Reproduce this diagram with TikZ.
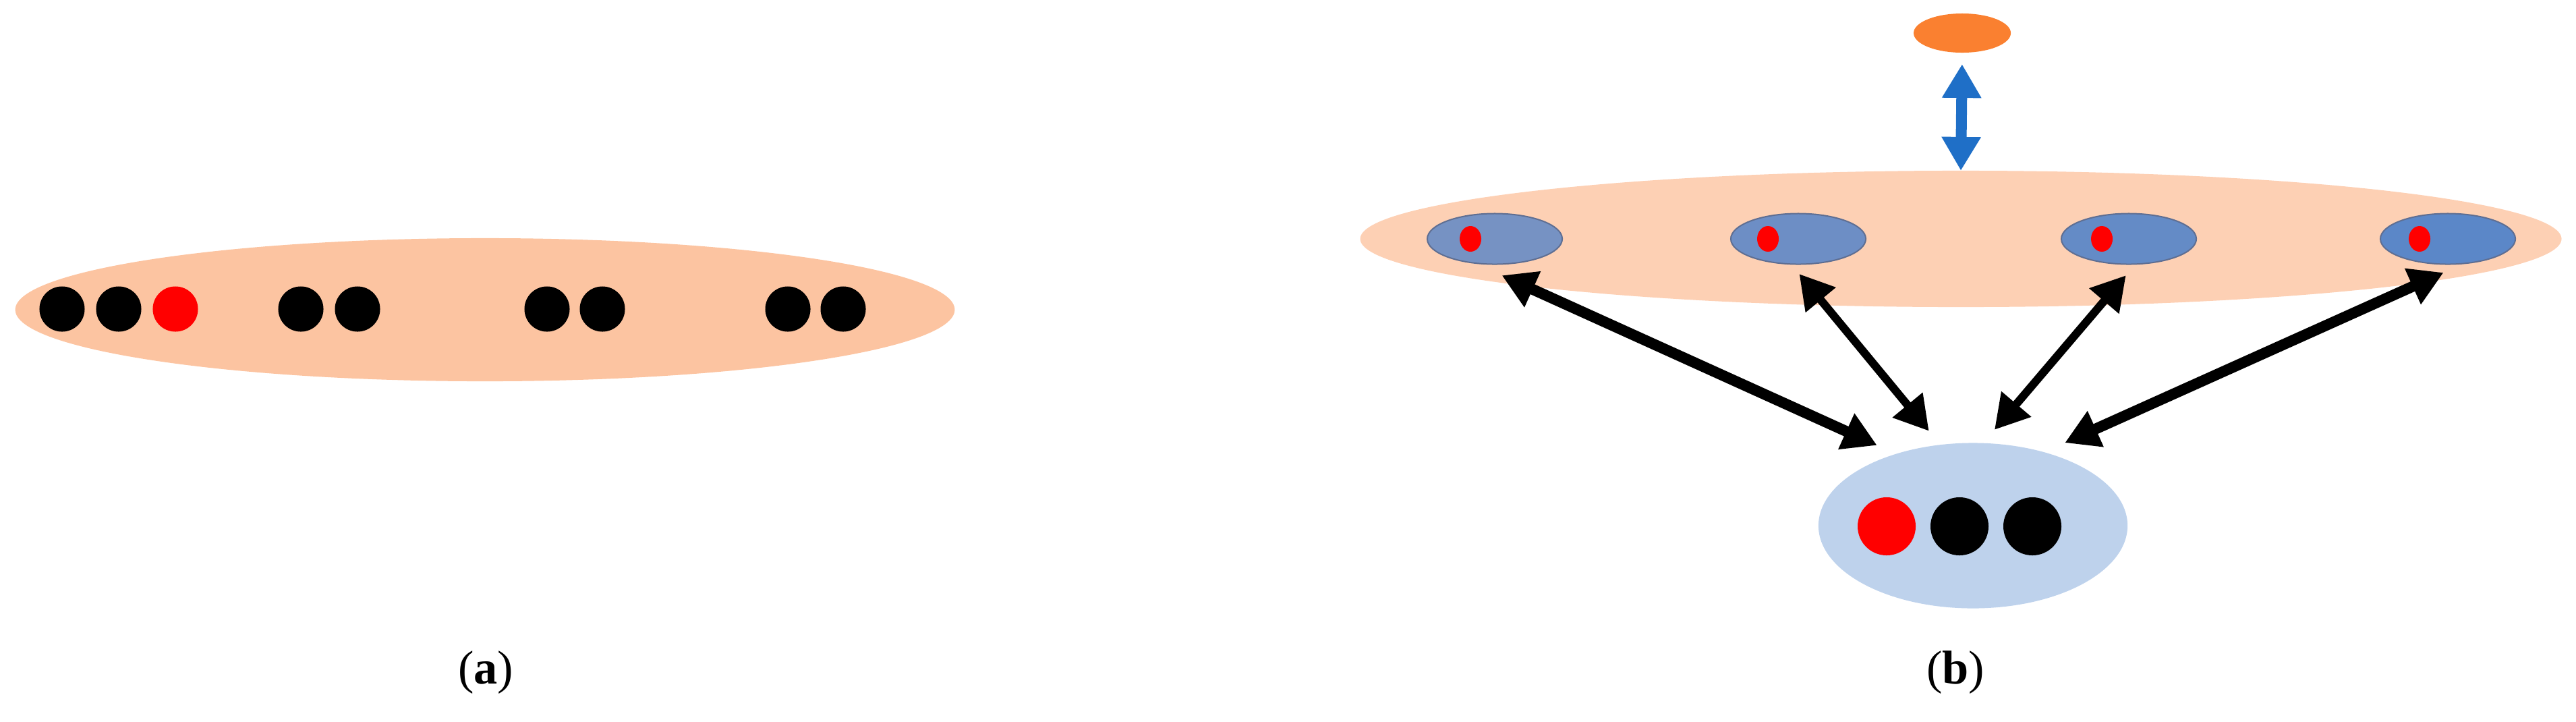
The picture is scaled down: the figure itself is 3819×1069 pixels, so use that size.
\documentclass[tikz,border=0pt]{standalone}
\usepackage{fontspec}
\setmainfont{Liberation Serif}
\usetikzlibrary{arrows.meta,shapes.geometric}
\definecolor{peach a}{HTML}{FCC4A1}
\definecolor{peach b}{HTML}{FDD0B4}
\definecolor{hub blue}{HTML}{BED2EC}
\definecolor{member left}{HTML}{7692C3}
\definecolor{member right}{HTML}{5B87C8}
\definecolor{member edge}{HTML}{5E6E92}
\definecolor{leader orange}{HTML}{FA8030}
\definecolor{sync blue}{HTML}{1F6FC7}

\begin{document}
\begin{tikzpicture}[
    x=0.01cm, y=-0.01cm,
    pool/.style={ellipse,fill=#1,inner sep=0pt,outer sep=0pt},
    dot/.style={circle,fill=#1,inner sep=0pt,outer sep=0pt,minimum size=0.67cm},
    member/.style={ellipse,fill=member left!#1!member right,draw=member edge,line width=0.02cm,minimum width=2cm,minimum height=0.75cm,inner sep=0pt,outer sep=0pt},
    core/.style={ellipse,fill=red,minimum width=0.32cm,minimum height=0.38cm,inner sep=0pt,outer sep=0pt},
    link/.style={{Triangle[length=0.5cm,width=0.55cm]}-{Triangle[length=0.5cm,width=0.55cm]},line width=#1},
    sync/.style={{Triangle[length=0.5cm,width=0.55cm]}-{Triangle[length=0.5cm,width=0.55cm]},line width=0.16cm,draw=sync blue,fill=sync blue},
    caption/.style={font=\fontsize{20}{24}\selectfont},
  ]
\useasboundingbox (0,0) rectangle (3819,1069);

% (a)
\node (pool a) [pool=peach a,minimum width=13.92cm,minimum height=2.12cm] at (719,459) {};
\foreach \x/\c [count=\i] in {92/black,176/black,260/red,446/black,530/black,811/black,893/black,1168/black,1250/black}
  \node (a dot \i) [dot=\c] at (\x,458) {};
\node (caption a) [caption] at (720,997) {(\textbf{a})};

% (b)
\node (leader) [pool=leader orange,minimum width=1.44cm,minimum height=0.58cm] at (2909,49) {};
\node (pool b) [pool=peach b,minimum width=17.8cm,minimum height=2.02cm] at (2907,354) {};
\draw [sync,shorten <=0.17cm] (leader.south) -- (pool b.north);

\foreach \x/\dx/\p [count=\i] in {2216/-36/100,2666/-45/67,3156/-40/33,3629/-42/0} {
  \node (member \i) [member=\p] at (\x,354) {};
  \node (core \i) [core] at (\x+\dx,354) {};
}

\node (hub) [pool=hub blue,minimum width=4.58cm,minimum height=2.45cm] at (2925,779) {};
\foreach \x/\c [count=\i] in {2797/red,2905/black,3013/black}
  \node (hub dot \i) [dot=\c,minimum size=0.86cm] at (\x,780) {};

\draw [link=0.16cm,shorten <=0.445cm,shorten >=0.31cm] (member 1.-130.5) -- (hub.137);
\draw [link=0.12cm,shorten <=0.19cm,shorten >=0.265cm] (member 2.-106.4) -- (hub.112.7);
\draw [link=0.12cm,shorten <=0.22cm,shorten >=0.26cm] (member 3.-75) -- (hub.83);
\draw [link=0.16cm,shorten <=0.33cm,shorten >=0.34cm] (member 4.-57.8) -- (hub.46);

\node (caption b) [caption] at (2899,997) {(\textbf{b})};
\end{tikzpicture}
\end{document}
